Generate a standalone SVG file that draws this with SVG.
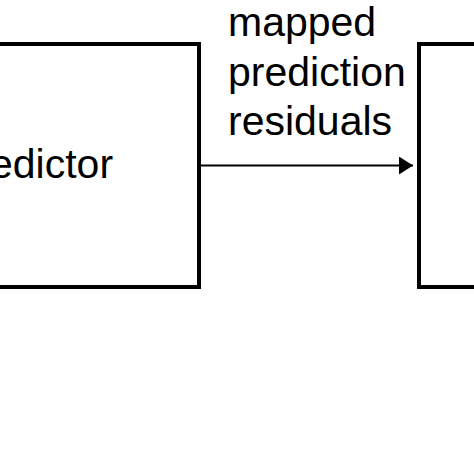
<svg xmlns="http://www.w3.org/2000/svg" width="474" height="474" viewBox="0 0 474 474">
<style>
.box{fill:#fff;stroke:#000;stroke-width:4}
.t{font-family:"Liberation Sans",Arial,sans-serif;font-size:41px;fill:#000}
.c{stroke:#000;stroke-width:2;fill:none}
</style>
<defs>
<marker id="ah" markerUnits="userSpaceOnUse" markerWidth="16" markerHeight="18" refX="14" refY="9" orient="auto">
<path d="M0,0 L14,9 L0,18 Z" fill="#000"/>
</marker>
</defs>
<rect width="474" height="474" fill="#fff"/>
<g id="predictor">
<rect class="box" x="-20" y="44" width="219" height="243"/>
<text class="t" x="-10" y="178">edictor</text>
</g>
<g id="right-block">
<rect class="box" x="419" y="44" width="80" height="243"/>
</g>
<g id="connectors">
<line class="c" x1="199" y1="165.5" x2="413" y2="165.5" marker-end="url(#ah)"/>
<text class="t" x="228" y="36">mapped</text>
<text class="t" x="228" y="86">prediction</text>
<text class="t" x="228" y="135">residuals</text>
</g>
</svg>
